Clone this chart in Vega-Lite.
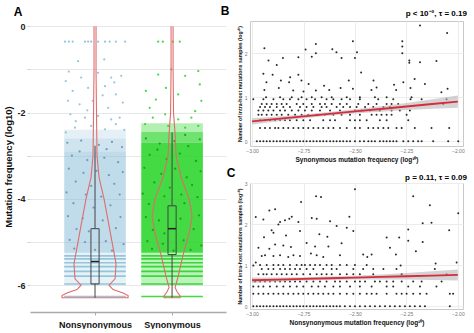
{
  "$schema": "https://vega.github.io/schema/vega-lite/v6.json",
  "padding": {"left": 3, "top": 4, "right": 2, "bottom": 0},
  "spacing": -6,
  "config": {
    "font": "Liberation Sans",
    "view": {"stroke": "#c8c8c8"},
    "axis": {"labelFont": "Liberation Sans", "titleFont": "Liberation Sans", "gridColor": "#ececec"}
  },
  "datasets": {
    "aBands": [
      {"g": "Nonsynonymous", "x1": 0.6, "x2": 1.4, "y1": -2.4, "y2": -2.6, "d": 0.22},
      {"g": "Nonsynonymous", "x1": 0.6, "x2": 1.4, "y1": -2.6, "y2": -2.9, "d": 0.4},
      {"g": "Nonsynonymous", "x1": 0.6, "x2": 1.4, "y1": -2.9, "y2": -5.25, "d": 0.52},
      {"g": "Nonsynonymous", "x1": 0.6, "x2": 1.4, "y1": -5.25, "y2": -6.0, "d": 0.2},
      {"g": "Synonymous", "x1": 1.6, "x2": 2.4, "y1": -2.25, "y2": -2.45, "d": 0.35},
      {"g": "Synonymous", "x1": 1.6, "x2": 2.4, "y1": -2.45, "y2": -2.7, "d": 0.65},
      {"g": "Synonymous", "x1": 1.6, "x2": 2.4, "y1": -2.7, "y2": -5.25, "d": 0.85},
      {"g": "Synonymous", "x1": 1.6, "x2": 2.4, "y1": -5.25, "y2": -6.0, "d": 0.3}
    ],
    "aStripes": [
      {"g": "Nonsynonymous", "x1": 0.6, "x2": 1.4, "y": -5.32},
      {"g": "Nonsynonymous", "x1": 0.6, "x2": 1.4, "y": -5.39},
      {"g": "Nonsynonymous", "x1": 0.6, "x2": 1.4, "y": -5.48},
      {"g": "Nonsynonymous", "x1": 0.6, "x2": 1.4, "y": -5.57},
      {"g": "Nonsynonymous", "x1": 0.6, "x2": 1.4, "y": -5.68},
      {"g": "Nonsynonymous", "x1": 0.6, "x2": 1.4, "y": -5.79},
      {"g": "Nonsynonymous", "x1": 0.6, "x2": 1.4, "y": -5.97},
      {"g": "Nonsynonymous", "x1": 0.6, "x2": 1.4, "y": -6.26},
      {"g": "Synonymous", "x1": 1.6, "x2": 2.4, "y": -5.32},
      {"g": "Synonymous", "x1": 1.6, "x2": 2.4, "y": -5.39},
      {"g": "Synonymous", "x1": 1.6, "x2": 2.4, "y": -5.48},
      {"g": "Synonymous", "x1": 1.6, "x2": 2.4, "y": -5.57},
      {"g": "Synonymous", "x1": 1.6, "x2": 2.4, "y": -5.68},
      {"g": "Synonymous", "x1": 1.6, "x2": 2.4, "y": -5.79},
      {"g": "Synonymous", "x1": 1.6, "x2": 2.4, "y": -5.97},
      {"g": "Synonymous", "x1": 1.6, "x2": 2.4, "y": -6.26}
    ],
    "aPts": [
      {"g": "Nonsynonymous", "x": 0.61, "y": -0.36}, {"g": "Nonsynonymous", "x": 0.66, "y": -0.36}, {"g": "Nonsynonymous", "x": 0.71, "y": -0.36},
      {"g": "Nonsynonymous", "x": 0.87, "y": -0.36}, {"g": "Nonsynonymous", "x": 0.91, "y": -0.36}, {"g": "Nonsynonymous", "x": 0.95, "y": -0.36},
      {"g": "Nonsynonymous", "x": 1.04, "y": -0.36}, {"g": "Nonsynonymous", "x": 1.13, "y": -0.36}, {"g": "Nonsynonymous", "x": 1.19, "y": -0.36},
      {"g": "Nonsynonymous", "x": 1.27, "y": -0.36}, {"g": "Nonsynonymous", "x": 1.39, "y": -0.36},
      {"g": "Nonsynonymous", "x": 1.12, "y": -0.77}, {"g": "Nonsynonymous", "x": 0.78, "y": -0.81}, {"g": "Nonsynonymous", "x": 0.62, "y": -1.27},
      {"g": "Nonsynonymous", "x": 0.82, "y": -1.19}, {"g": "Nonsynonymous", "x": 1.04, "y": -1.08}, {"g": "Nonsynonymous", "x": 1.21, "y": -1.19},
      {"g": "Nonsynonymous", "x": 1.34, "y": -1.15}, {"g": "Nonsynonymous", "x": 0.71, "y": -1.5}, {"g": "Nonsynonymous", "x": 0.91, "y": -1.43},
      {"g": "Nonsynonymous", "x": 1.13, "y": -1.39}, {"g": "Nonsynonymous", "x": 1.27, "y": -1.58}, {"g": "Nonsynonymous", "x": 0.65, "y": -1.73},
      {"g": "Nonsynonymous", "x": 0.8, "y": -1.81}, {"g": "Nonsynonymous", "x": 0.97, "y": -1.73}, {"g": "Nonsynonymous", "x": 1.17, "y": -1.89},
      {"g": "Nonsynonymous", "x": 1.36, "y": -1.77}, {"g": "Nonsynonymous", "x": 0.68, "y": -2.04}, {"g": "Nonsynonymous", "x": 0.87, "y": -2.12},
      {"g": "Nonsynonymous", "x": 1.04, "y": -2.08}, {"g": "Nonsynonymous", "x": 1.21, "y": -2.16}, {"g": "Nonsynonymous", "x": 1.32, "y": -2.12},
      {"g": "Nonsynonymous", "x": 0.74, "y": -2.35}, {"g": "Nonsynonymous", "x": 0.95, "y": -2.31}, {"g": "Nonsynonymous", "x": 1.13, "y": -2.39},
      {"g": "Nonsynonymous", "x": 1.27, "y": -2.27}, {"g": "Nonsynonymous", "x": 0.62, "y": -2.46}, {"g": "Nonsynonymous", "x": 1.25, "y": -1.3},
      {"g": "Nonsynonymous", "x": 0.75, "y": -2.2}, {"g": "Nonsynonymous", "x": 1.38, "y": -2.4}, {"g": "Nonsynonymous", "x": 0.9, "y": -1.95},
      {"g": "Nonsynonymous", "x": 1.1, "y": -1.6}, {"g": "Nonsynonymous", "x": 0.66, "y": -1.05},
      {"g": "Synonymous", "x": 1.82, "y": -0.36}, {"g": "Synonymous", "x": 1.88, "y": -0.36}, {"g": "Synonymous", "x": 2.01, "y": -0.36},
      {"g": "Synonymous", "x": 2.1, "y": -0.36}, {"g": "Synonymous", "x": 1.82, "y": -1.12}, {"g": "Synonymous", "x": 2.17, "y": -1.15},
      {"g": "Synonymous", "x": 2.34, "y": -1.04}, {"g": "Synonymous", "x": 2.38, "y": -1.73}, {"g": "Synonymous", "x": 1.66, "y": -1.5},
      {"g": "Synonymous", "x": 1.92, "y": -1.43}, {"g": "Synonymous", "x": 2.08, "y": -1.58}, {"g": "Synonymous", "x": 1.71, "y": -1.89},
      {"g": "Synonymous", "x": 2.3, "y": -1.97}, {"g": "Synonymous", "x": 1.91, "y": -2.04}, {"g": "Synonymous", "x": 1.75, "y": -2.12},
      {"g": "Synonymous", "x": 2.08, "y": -2.16}, {"g": "Synonymous", "x": 2.25, "y": -2.12}, {"g": "Synonymous", "x": 1.65, "y": -2.27},
      {"g": "Synonymous", "x": 1.95, "y": -2.31}, {"g": "Synonymous", "x": 2.17, "y": -2.35}, {"g": "Synonymous", "x": 2.34, "y": -2.31},
      {"g": "Synonymous", "x": 1.79, "y": -1.7}, {"g": "Synonymous", "x": 1.99, "y": -1.0}, {"g": "Synonymous", "x": 2.36, "y": -1.35},
      {"g": "N dense", "x": 0.64, "y": -2.7}, {"g": "N dense", "x": 0.82, "y": -2.65}, {"g": "N dense", "x": 1.05, "y": -2.75}, {"g": "N dense", "x": 1.22, "y": -2.68}, {"g": "N dense", "x": 1.35, "y": -2.8},
      {"g": "N dense", "x": 0.7, "y": -3.0}, {"g": "N dense", "x": 0.9, "y": -3.1}, {"g": "N dense", "x": 1.12, "y": -3.05}, {"g": "N dense", "x": 1.3, "y": -3.15}, {"g": "N dense", "x": 0.66, "y": -3.3},
      {"g": "N dense", "x": 0.85, "y": -3.4}, {"g": "N dense", "x": 1.02, "y": -3.35}, {"g": "N dense", "x": 1.18, "y": -3.45}, {"g": "N dense", "x": 1.36, "y": -3.38}, {"g": "N dense", "x": 0.75, "y": -3.6},
      {"g": "N dense", "x": 0.95, "y": -3.7}, {"g": "N dense", "x": 1.25, "y": -3.65}, {"g": "N dense", "x": 0.63, "y": -3.85}, {"g": "N dense", "x": 0.88, "y": -3.9}, {"g": "N dense", "x": 1.08, "y": -3.95},
      {"g": "N dense", "x": 1.32, "y": -3.9}, {"g": "N dense", "x": 0.72, "y": -4.1}, {"g": "N dense", "x": 0.98, "y": -4.2}, {"g": "N dense", "x": 1.2, "y": -4.15}, {"g": "N dense", "x": 0.65, "y": -4.4},
      {"g": "N dense", "x": 0.84, "y": -4.45}, {"g": "N dense", "x": 1.1, "y": -4.5}, {"g": "N dense", "x": 1.33, "y": -4.42}, {"g": "N dense", "x": 0.76, "y": -4.7}, {"g": "N dense", "x": 0.92, "y": -4.75},
      {"g": "N dense", "x": 1.27, "y": -4.68}, {"g": "N dense", "x": 0.67, "y": -4.95}, {"g": "N dense", "x": 0.87, "y": -5.0}, {"g": "N dense", "x": 1.14, "y": -4.98}, {"g": "N dense", "x": 1.37, "y": -5.05},
      {"g": "N dense", "x": 0.73, "y": -5.15}, {"g": "N dense", "x": 1.0, "y": -5.18}, {"g": "N dense", "x": 1.22, "y": -5.2}, {"g": "N dense", "x": 0.8, "y": -2.9}, {"g": "N dense", "x": 1.15, "y": -2.85},
      {"g": "S dense", "x": 1.66, "y": -2.6}, {"g": "S dense", "x": 1.84, "y": -2.72}, {"g": "S dense", "x": 2.03, "y": -2.66}, {"g": "S dense", "x": 2.21, "y": -2.78}, {"g": "S dense", "x": 2.36, "y": -2.62},
      {"g": "S dense", "x": 1.71, "y": -2.98}, {"g": "S dense", "x": 1.93, "y": -3.08}, {"g": "S dense", "x": 2.1, "y": -2.95}, {"g": "S dense", "x": 2.31, "y": -3.12}, {"g": "S dense", "x": 1.64, "y": -3.28},
      {"g": "S dense", "x": 1.86, "y": -3.42}, {"g": "S dense", "x": 2.04, "y": -3.3}, {"g": "S dense", "x": 2.19, "y": -3.5}, {"g": "S dense", "x": 2.37, "y": -3.36}, {"g": "S dense", "x": 1.77, "y": -3.62},
      {"g": "S dense", "x": 1.97, "y": -3.74}, {"g": "S dense", "x": 2.26, "y": -3.68}, {"g": "S dense", "x": 1.62, "y": -3.88}, {"g": "S dense", "x": 1.9, "y": -3.94}, {"g": "S dense", "x": 2.12, "y": -3.9},
      {"g": "S dense", "x": 2.33, "y": -3.96}, {"g": "S dense", "x": 1.7, "y": -4.12}, {"g": "S dense", "x": 2.16, "y": -4.1}, {"g": "S dense", "x": 1.66, "y": -4.42},
      {"g": "S dense", "x": 1.83, "y": -4.5}, {"g": "S dense", "x": 2.11, "y": -4.46}, {"g": "S dense", "x": 2.35, "y": -4.38}, {"g": "S dense", "x": 1.75, "y": -4.72}, {"g": "S dense", "x": 1.9, "y": -4.8},
      {"g": "S dense", "x": 2.28, "y": -4.7}, {"g": "S dense", "x": 1.68, "y": -4.98}, {"g": "S dense", "x": 1.88, "y": -5.04}, {"g": "S dense", "x": 2.15, "y": -4.96}, {"g": "S dense", "x": 2.38, "y": -5.08},
      {"g": "S dense", "x": 1.74, "y": -5.16}, {"g": "S dense", "x": 2.02, "y": -5.2}, {"g": "S dense", "x": 2.24, "y": -5.18}, {"g": "S dense", "x": 1.81, "y": -2.86}, {"g": "S dense", "x": 2.17, "y": -2.52}
    ],
    "aViolin": [
      {"g": "Nonsynonymous", "o": 1, "x": 1.013, "y": 0}, {"g": "Nonsynonymous", "o": 2, "x": 1.013, "y": -1},
      {"g": "Nonsynonymous", "o": 3, "x": 1.019, "y": -2}, {"g": "Nonsynonymous", "o": 4, "x": 1.026, "y": -3},
      {"g": "Nonsynonymous", "o": 5, "x": 1.052, "y": -3.5}, {"g": "Nonsynonymous", "o": 6, "x": 1.117, "y": -4},
      {"g": "Nonsynonymous", "o": 7, "x": 1.169, "y": -4.5}, {"g": "Nonsynonymous", "o": 8, "x": 1.221, "y": -5},
      {"g": "Nonsynonymous", "o": 9, "x": 1.273, "y": -5.5}, {"g": "Nonsynonymous", "o": 10, "x": 1.26, "y": -5.85},
      {"g": "Nonsynonymous", "o": 11, "x": 1.182, "y": -6.0}, {"g": "Nonsynonymous", "o": 12, "x": 1.234, "y": -6.1},
      {"g": "Nonsynonymous", "o": 13, "x": 1.364, "y": -6.18}, {"g": "Nonsynonymous", "o": 14, "x": 1.429, "y": -6.24},
      {"g": "Nonsynonymous", "o": 15, "x": 1.429, "y": -6.29}, {"g": "Nonsynonymous", "o": 16, "x": 0.571, "y": -6.29},
      {"g": "Nonsynonymous", "o": 17, "x": 0.571, "y": -6.24}, {"g": "Nonsynonymous", "o": 18, "x": 0.636, "y": -6.18},
      {"g": "Nonsynonymous", "o": 19, "x": 0.766, "y": -6.1}, {"g": "Nonsynonymous", "o": 20, "x": 0.818, "y": -6.0},
      {"g": "Nonsynonymous", "o": 21, "x": 0.74, "y": -5.85}, {"g": "Nonsynonymous", "o": 22, "x": 0.727, "y": -5.5},
      {"g": "Nonsynonymous", "o": 23, "x": 0.779, "y": -5}, {"g": "Nonsynonymous", "o": 24, "x": 0.831, "y": -4.5},
      {"g": "Nonsynonymous", "o": 25, "x": 0.883, "y": -4}, {"g": "Nonsynonymous", "o": 26, "x": 0.948, "y": -3.5},
      {"g": "Nonsynonymous", "o": 27, "x": 0.974, "y": -3}, {"g": "Nonsynonymous", "o": 28, "x": 0.981, "y": -2},
      {"g": "Nonsynonymous", "o": 29, "x": 0.987, "y": -1}, {"g": "Nonsynonymous", "o": 30, "x": 0.987, "y": 0},
      {"g": "Synonymous", "o": 1, "x": 2.013, "y": 0}, {"g": "Synonymous", "o": 2, "x": 2.013, "y": -1},
      {"g": "Synonymous", "o": 3, "x": 2.019, "y": -2}, {"g": "Synonymous", "o": 4, "x": 2.039, "y": -2.5},
      {"g": "Synonymous", "o": 5, "x": 2.052, "y": -3}, {"g": "Synonymous", "o": 6, "x": 2.117, "y": -3.5},
      {"g": "Synonymous", "o": 7, "x": 2.221, "y": -4}, {"g": "Synonymous", "o": 8, "x": 2.26, "y": -4.4},
      {"g": "Synonymous", "o": 9, "x": 2.221, "y": -4.8}, {"g": "Synonymous", "o": 10, "x": 2.143, "y": -5.3},
      {"g": "Synonymous", "o": 11, "x": 2.078, "y": -5.8}, {"g": "Synonymous", "o": 12, "x": 2.039, "y": -6.05},
      {"g": "Synonymous", "o": 13, "x": 2.065, "y": -6.15}, {"g": "Synonymous", "o": 14, "x": 2.104, "y": -6.25},
      {"g": "Synonymous", "o": 15, "x": 2.104, "y": -6.29}, {"g": "Synonymous", "o": 16, "x": 1.896, "y": -6.29},
      {"g": "Synonymous", "o": 17, "x": 1.896, "y": -6.25}, {"g": "Synonymous", "o": 18, "x": 1.935, "y": -6.15},
      {"g": "Synonymous", "o": 19, "x": 1.961, "y": -6.05}, {"g": "Synonymous", "o": 20, "x": 1.922, "y": -5.8},
      {"g": "Synonymous", "o": 21, "x": 1.857, "y": -5.3}, {"g": "Synonymous", "o": 22, "x": 1.779, "y": -4.8},
      {"g": "Synonymous", "o": 23, "x": 1.74, "y": -4.4}, {"g": "Synonymous", "o": 24, "x": 1.779, "y": -4},
      {"g": "Synonymous", "o": 25, "x": 1.883, "y": -3.5}, {"g": "Synonymous", "o": 26, "x": 1.948, "y": -3},
      {"g": "Synonymous", "o": 27, "x": 1.961, "y": -2.5}, {"g": "Synonymous", "o": 28, "x": 1.981, "y": -2},
      {"g": "Synonymous", "o": 29, "x": 1.987, "y": -1}, {"g": "Synonymous", "o": 30, "x": 1.987, "y": 0}
    ],
    "aBox": [
      {"g": "Nonsynonymous", "x1": 0.947, "x2": 1.053, "q1": -5.97, "q3": -4.69, "med": -5.45},
      {"g": "Synonymous", "x1": 1.947, "x2": 2.053, "q1": -5.29, "q3": -4.16, "med": -4.69}
    ],
    "aWhisk": [
      {"c": 1, "y1": -4.69, "y2": -2.77}, {"c": 1, "y1": -6.29, "y2": -5.97},
      {"c": 2, "y1": -4.16, "y2": -2.46}, {"c": 2, "y1": -6.29, "y2": -5.29}
    ],
    "bFit": [
      {"x": -3.0, "y": 0.45, "lo": 0.38, "hi": 0.52},
      {"x": -2.875, "y": 0.506, "lo": 0.451, "hi": 0.561},
      {"x": -2.75, "y": 0.5625, "lo": 0.518, "hi": 0.608},
      {"x": -2.625, "y": 0.619, "lo": 0.577, "hi": 0.661},
      {"x": -2.5, "y": 0.675, "lo": 0.627, "hi": 0.723},
      {"x": -2.375, "y": 0.731, "lo": 0.671, "hi": 0.791},
      {"x": -2.25, "y": 0.7875, "lo": 0.71, "hi": 0.866},
      {"x": -2.125, "y": 0.844, "lo": 0.734, "hi": 0.954},
      {"x": -2.0, "y": 0.9, "lo": 0.76, "hi": 1.04}
    ],
    "cFit": [
      {"x": -3.0, "y": 0.63, "lo": 0.565, "hi": 0.695},
      {"x": -2.875, "y": 0.646, "lo": 0.596, "hi": 0.696},
      {"x": -2.75, "y": 0.6625, "lo": 0.6225, "hi": 0.7025},
      {"x": -2.625, "y": 0.679, "lo": 0.639, "hi": 0.719},
      {"x": -2.5, "y": 0.695, "lo": 0.647, "hi": 0.743},
      {"x": -2.375, "y": 0.711, "lo": 0.651, "hi": 0.771},
      {"x": -2.25, "y": 0.7275, "lo": 0.6475, "hi": 0.8075},
      {"x": -2.125, "y": 0.744, "lo": 0.639, "hi": 0.849},
      {"x": -2.0, "y": 0.76, "lo": 0.625, "hi": 0.895}
    ],
    "bPts": [
      {"x": -2.977, "y": 0}, {"x": -2.961, "y": 0}, {"x": -2.945, "y": 0}, {"x": -2.929, "y": 0}, {"x": -2.913, "y": 0}, {"x": -2.896, "y": 0}, {"x": -2.88, "y": 0}, {"x": -2.864, "y": 0}, {"x": -2.848, "y": 0}, {"x": -2.832, "y": 0}, {"x": -2.816, "y": 0}, {"x": -2.799, "y": 0}, {"x": -2.783, "y": 0}, {"x": -2.767, "y": 0}, {"x": -2.751, "y": 0}, {"x": -2.735, "y": 0}, {"x": -2.718, "y": 0}, {"x": -2.702, "y": 0}, {"x": -2.686, "y": 0}, {"x": -2.67, "y": 0}, {"x": -2.654, "y": 0}, {"x": -2.638, "y": 0}, {"x": -2.621, "y": 0}, {"x": -2.605, "y": 0}, {"x": -2.589, "y": 0}, {"x": -2.573, "y": 0}, {"x": -2.557, "y": 0}, {"x": -2.54, "y": 0}, {"x": -2.524, "y": 0}, {"x": -2.5, "y": 0}, {"x": -2.476, "y": 0}, {"x": -2.456, "y": 0}, {"x": -2.435, "y": 0}, {"x": -2.419, "y": 0}, {"x": -2.403, "y": 0}, {"x": -2.379, "y": 0}, {"x": -2.362, "y": 0}, {"x": -2.346, "y": 0}, {"x": -2.33, "y": 0}, {"x": -2.314, "y": 0}, {"x": -2.298, "y": 0}, {"x": -2.265, "y": 0}, {"x": -2.241, "y": 0}, {"x": -2.217, "y": 0}, {"x": -2.193, "y": 0}, {"x": -2.176, "y": 0}, {"x": -2.12, "y": 0}, {"x": -2.047, "y": 0}, {"x": -1.998, "y": 0},
      {"x": -2.961, "y": 0.301}, {"x": -2.937, "y": 0.301}, {"x": -2.913, "y": 0.301}, {"x": -2.888, "y": 0.301}, {"x": -2.872, "y": 0.301}, {"x": -2.848, "y": 0.301}, {"x": -2.824, "y": 0.301}, {"x": -2.799, "y": 0.301}, {"x": -2.775, "y": 0.301}, {"x": -2.751, "y": 0.301}, {"x": -2.727, "y": 0.301}, {"x": -2.702, "y": 0.301}, {"x": -2.678, "y": 0.301}, {"x": -2.654, "y": 0.301}, {"x": -2.629, "y": 0.301}, {"x": -2.605, "y": 0.301}, {"x": -2.573, "y": 0.301}, {"x": -2.54, "y": 0.301}, {"x": -2.5, "y": 0.301}, {"x": -2.476, "y": 0.301}, {"x": -2.435, "y": 0.301}, {"x": -2.411, "y": 0.301}, {"x": -2.387, "y": 0.301}, {"x": -2.362, "y": 0.301}, {"x": -2.338, "y": 0.301}, {"x": -2.298, "y": 0.301}, {"x": -2.273, "y": 0.301}, {"x": -2.209, "y": 0.301}, {"x": -2.128, "y": 0.301}, {"x": -2.042, "y": 0.301},
      {"x": -2.961, "y": 0.477}, {"x": -2.937, "y": 0.477}, {"x": -2.913, "y": 0.477}, {"x": -2.888, "y": 0.477}, {"x": -2.864, "y": 0.477}, {"x": -2.84, "y": 0.477}, {"x": -2.816, "y": 0.477}, {"x": -2.783, "y": 0.477}, {"x": -2.751, "y": 0.477}, {"x": -2.718, "y": 0.477}, {"x": -2.654, "y": 0.477}, {"x": -2.621, "y": 0.477}, {"x": -2.597, "y": 0.477}, {"x": -2.524, "y": 0.477}, {"x": -2.5, "y": 0.477}, {"x": -2.476, "y": 0.477}, {"x": -2.443, "y": 0.477}, {"x": -2.379, "y": 0.477}, {"x": -2.346, "y": 0.477}, {"x": -2.241, "y": 0.477},
      {"x": -2.969, "y": 0.602}, {"x": -2.953, "y": 0.602}, {"x": -2.929, "y": 0.602}, {"x": -2.905, "y": 0.602}, {"x": -2.88, "y": 0.602}, {"x": -2.856, "y": 0.602}, {"x": -2.824, "y": 0.602}, {"x": -2.791, "y": 0.602}, {"x": -2.759, "y": 0.602}, {"x": -2.727, "y": 0.602}, {"x": -2.686, "y": 0.602}, {"x": -2.646, "y": 0.602}, {"x": -2.605, "y": 0.602}, {"x": -2.565, "y": 0.602}, {"x": -2.524, "y": 0.602}, {"x": -2.476, "y": 0.602}, {"x": -2.419, "y": 0.602}, {"x": -2.395, "y": 0.602}, {"x": -2.371, "y": 0.602}, {"x": -2.346, "y": 0.602}, {"x": -2.322, "y": 0.602}, {"x": -2.249, "y": 0.602},
      {"x": -2.969, "y": 0.699}, {"x": -2.945, "y": 0.699}, {"x": -2.921, "y": 0.699}, {"x": -2.896, "y": 0.699}, {"x": -2.864, "y": 0.699}, {"x": -2.84, "y": 0.699}, {"x": -2.807, "y": 0.699}, {"x": -2.775, "y": 0.699}, {"x": -2.743, "y": 0.699}, {"x": -2.71, "y": 0.699}, {"x": -2.67, "y": 0.699}, {"x": -2.621, "y": 0.699}, {"x": -2.573, "y": 0.699}, {"x": -2.5, "y": 0.699}, {"x": -2.468, "y": 0.699}, {"x": -2.427, "y": 0.699}, {"x": -2.379, "y": 0.699}, {"x": -2.322, "y": 0.699}, {"x": -2.282, "y": 0.699}, {"x": -2.233, "y": 0.699},
      {"x": -2.961, "y": 0.778}, {"x": -2.937, "y": 0.778}, {"x": -2.913, "y": 0.778}, {"x": -2.88, "y": 0.778}, {"x": -2.848, "y": 0.778}, {"x": -2.816, "y": 0.778}, {"x": -2.767, "y": 0.778}, {"x": -2.735, "y": 0.778}, {"x": -2.702, "y": 0.778}, {"x": -2.662, "y": 0.778}, {"x": -2.638, "y": 0.778}, {"x": -2.589, "y": 0.778}, {"x": -2.557, "y": 0.778}, {"x": -2.524, "y": 0.778}, {"x": -2.492, "y": 0.778}, {"x": -2.451, "y": 0.778}, {"x": -2.411, "y": 0.778}, {"x": -2.362, "y": 0.778}, {"x": -2.33, "y": 0.778},
      {"x": -2.953, "y": 0.845}, {"x": -2.929, "y": 0.845}, {"x": -2.905, "y": 0.845}, {"x": -2.88, "y": 0.845}, {"x": -2.856, "y": 0.845}, {"x": -2.832, "y": 0.845}, {"x": -2.783, "y": 0.845}, {"x": -2.751, "y": 0.845}, {"x": -2.71, "y": 0.845}, {"x": -2.67, "y": 0.845}, {"x": -2.646, "y": 0.845}, {"x": -2.613, "y": 0.845}, {"x": -2.573, "y": 0.845}, {"x": -2.54, "y": 0.845}, {"x": -2.484, "y": 0.845}, {"x": -2.435, "y": 0.845}, {"x": -2.395, "y": 0.845}, {"x": -2.346, "y": 0.845}, {"x": -2.322, "y": 0.845}, {"x": -2.29, "y": 0.845}, {"x": -2.071, "y": 0.845},
      {"x": -2.994, "y": 0.954}, {"x": -2.945, "y": 0.954}, {"x": -2.896, "y": 0.954}, {"x": -2.848, "y": 0.954}, {"x": -2.816, "y": 0.954}, {"x": -2.775, "y": 0.954}, {"x": -2.735, "y": 0.954}, {"x": -2.694, "y": 0.954}, {"x": -2.638, "y": 0.954}, {"x": -2.605, "y": 0.954}, {"x": -2.565, "y": 0.954}, {"x": -2.524, "y": 0.954}, {"x": -2.476, "y": 0.954}, {"x": -2.387, "y": 0.954}, {"x": -2.314, "y": 0.954}, {"x": -2.23, "y": 0.954}, {"x": -2.176, "y": 0.954}, {"x": -2.055, "y": 0.954},
      {"x": -2.932, "y": 1.0}, {"x": -2.864, "y": 1.0}, {"x": -2.807, "y": 1.0}, {"x": -2.759, "y": 1.0}, {"x": -2.71, "y": 1.0}, {"x": -2.662, "y": 1.0}, {"x": -2.613, "y": 1.0}, {"x": -2.54, "y": 1.0}, {"x": -2.476, "y": 1.0}, {"x": -2.403, "y": 1.0}, {"x": -2.346, "y": 1.0}, {"x": -2.225, "y": 1.0},
      {"x": -2.184, "y": 2.625}, {"x": -2.052, "y": 2.46}, {"x": -2.69, "y": 2.21}, {"x": -2.51, "y": 2.27}, {"x": -2.94, "y": 2.11}, {"x": -2.74, "y": 2.08}, {"x": -2.61, "y": 2.09}, {"x": -2.27, "y": 2.27}, {"x": -2.27, "y": 2.15}, {"x": -2.27, "y": 1.995}, {"x": -2.59, "y": 2.02}, {"x": -2.49, "y": 2.02}, {"x": -2.69, "y": 2.0}, {"x": -2.775, "y": 1.905}, {"x": -2.5, "y": 1.89}, {"x": -2.71, "y": 1.92}, {"x": -2.92, "y": 1.83}, {"x": -2.85, "y": 1.89}, {"x": -2.565, "y": 1.89}, {"x": -2.236, "y": 1.83}, {"x": -2.184, "y": 1.79}, {"x": -2.236, "y": 1.78}, {"x": -2.104, "y": 1.82}, {"x": -2.88, "y": 1.73}, {"x": -2.945, "y": 1.53}, {"x": -2.9, "y": 1.51}, {"x": -2.775, "y": 1.51}, {"x": -2.47, "y": 1.56}, {"x": -2.815, "y": 1.45}, {"x": -2.76, "y": 1.38}, {"x": -2.41, "y": 1.38}, {"x": -2.265, "y": 1.34}, {"x": -2.21, "y": 1.41}, {"x": -2.93, "y": 1.34}, {"x": -2.86, "y": 1.38}, {"x": -2.82, "y": 1.34}, {"x": -2.53, "y": 1.38}, {"x": -2.725, "y": 1.3}, {"x": -2.65, "y": 1.26}, {"x": -2.625, "y": 1.16}, {"x": -2.57, "y": 1.21}, {"x": -2.51, "y": 1.19}, {"x": -2.31, "y": 1.28}, {"x": -2.16, "y": 1.3}, {"x": -2.05, "y": 1.19}, {"x": -2.08, "y": 1.11}, {"x": -2.94, "y": 1.16}, {"x": -2.87, "y": 1.21}, {"x": -2.8, "y": 1.15}, {"x": -2.75, "y": 1.13}, {"x": -2.69, "y": 1.15}, {"x": -2.42, "y": 1.16}, {"x": -2.395, "y": 1.22}, {"x": -2.3, "y": 1.16}, {"x": -2.23, "y": 1.21}
    ],
    "cPts": [
      {"x": -2.994, "y": 0}, {"x": -2.977, "y": 0}, {"x": -2.961, "y": 0}, {"x": -2.945, "y": 0}, {"x": -2.929, "y": 0}, {"x": -2.913, "y": 0}, {"x": -2.896, "y": 0}, {"x": -2.88, "y": 0}, {"x": -2.864, "y": 0}, {"x": -2.848, "y": 0}, {"x": -2.832, "y": 0}, {"x": -2.816, "y": 0}, {"x": -2.799, "y": 0}, {"x": -2.783, "y": 0}, {"x": -2.767, "y": 0}, {"x": -2.751, "y": 0}, {"x": -2.735, "y": 0}, {"x": -2.718, "y": 0}, {"x": -2.702, "y": 0}, {"x": -2.686, "y": 0}, {"x": -2.67, "y": 0}, {"x": -2.654, "y": 0}, {"x": -2.638, "y": 0}, {"x": -2.621, "y": 0}, {"x": -2.605, "y": 0}, {"x": -2.589, "y": 0}, {"x": -2.573, "y": 0}, {"x": -2.549, "y": 0}, {"x": -2.524, "y": 0}, {"x": -2.5, "y": 0}, {"x": -2.476, "y": 0}, {"x": -2.451, "y": 0}, {"x": -2.427, "y": 0}, {"x": -2.403, "y": 0}, {"x": -2.379, "y": 0}, {"x": -2.354, "y": 0}, {"x": -2.33, "y": 0}, {"x": -2.306, "y": 0}, {"x": -2.282, "y": 0}, {"x": -2.257, "y": 0}, {"x": -2.233, "y": 0}, {"x": -2.209, "y": 0}, {"x": -2.184, "y": 0}, {"x": -2.16, "y": 0}, {"x": -2.039, "y": 0},
      {"x": -2.994, "y": 0.301}, {"x": -2.969, "y": 0.301}, {"x": -2.945, "y": 0.301}, {"x": -2.921, "y": 0.301}, {"x": -2.896, "y": 0.301}, {"x": -2.872, "y": 0.301}, {"x": -2.848, "y": 0.301}, {"x": -2.824, "y": 0.301}, {"x": -2.799, "y": 0.301}, {"x": -2.775, "y": 0.301}, {"x": -2.751, "y": 0.301}, {"x": -2.727, "y": 0.301}, {"x": -2.702, "y": 0.301}, {"x": -2.678, "y": 0.301}, {"x": -2.654, "y": 0.301}, {"x": -2.629, "y": 0.301}, {"x": -2.605, "y": 0.301}, {"x": -2.573, "y": 0.301}, {"x": -2.54, "y": 0.301}, {"x": -2.508, "y": 0.301}, {"x": -2.476, "y": 0.301}, {"x": -2.443, "y": 0.301}, {"x": -2.419, "y": 0.301}, {"x": -2.395, "y": 0.301}, {"x": -2.346, "y": 0.301}, {"x": -2.298, "y": 0.301}, {"x": -2.273, "y": 0.301}, {"x": -2.249, "y": 0.301}, {"x": -2.217, "y": 0.301}, {"x": -2.184, "y": 0.301}, {"x": -2.152, "y": 0.301}, {"x": -2.039, "y": 0.301}, {"x": -2.023, "y": 0.301},
      {"x": -2.994, "y": 0.477}, {"x": -2.969, "y": 0.477}, {"x": -2.945, "y": 0.477}, {"x": -2.913, "y": 0.477}, {"x": -2.88, "y": 0.477}, {"x": -2.848, "y": 0.477}, {"x": -2.816, "y": 0.477}, {"x": -2.783, "y": 0.477}, {"x": -2.751, "y": 0.477}, {"x": -2.71, "y": 0.477}, {"x": -2.678, "y": 0.477}, {"x": -2.646, "y": 0.477}, {"x": -2.605, "y": 0.477}, {"x": -2.573, "y": 0.477}, {"x": -2.524, "y": 0.477}, {"x": -2.476, "y": 0.477}, {"x": -2.419, "y": 0.477}, {"x": -2.346, "y": 0.477}, {"x": -2.314, "y": 0.477}, {"x": -2.241, "y": 0.477}, {"x": -2.184, "y": 0.477}, {"x": -2.104, "y": 0.477},
      {"x": -2.985, "y": 0.602}, {"x": -2.961, "y": 0.602}, {"x": -2.937, "y": 0.602}, {"x": -2.913, "y": 0.602}, {"x": -2.888, "y": 0.602}, {"x": -2.864, "y": 0.602}, {"x": -2.84, "y": 0.602}, {"x": -2.816, "y": 0.602}, {"x": -2.791, "y": 0.602}, {"x": -2.767, "y": 0.602}, {"x": -2.735, "y": 0.602}, {"x": -2.702, "y": 0.602}, {"x": -2.67, "y": 0.602}, {"x": -2.638, "y": 0.602}, {"x": -2.597, "y": 0.602}, {"x": -2.573, "y": 0.602}, {"x": -2.54, "y": 0.602}, {"x": -2.5, "y": 0.602}, {"x": -2.476, "y": 0.602}, {"x": -2.451, "y": 0.602}, {"x": -2.403, "y": 0.602}, {"x": -2.379, "y": 0.602}, {"x": -2.346, "y": 0.602}, {"x": -2.314, "y": 0.602}, {"x": -2.273, "y": 0.602}, {"x": -2.217, "y": 0.602}, {"x": -2.176, "y": 0.602}, {"x": -2.079, "y": 0.602},
      {"x": -2.969, "y": 0.778}, {"x": -2.945, "y": 0.778}, {"x": -2.929, "y": 0.778}, {"x": -2.905, "y": 0.778}, {"x": -2.88, "y": 0.778}, {"x": -2.856, "y": 0.778}, {"x": -2.832, "y": 0.778}, {"x": -2.807, "y": 0.778}, {"x": -2.783, "y": 0.778}, {"x": -2.751, "y": 0.778}, {"x": -2.718, "y": 0.778}, {"x": -2.686, "y": 0.778}, {"x": -2.662, "y": 0.778}, {"x": -2.638, "y": 0.778}, {"x": -2.613, "y": 0.778}, {"x": -2.573, "y": 0.778}, {"x": -2.54, "y": 0.778}, {"x": -2.508, "y": 0.778}, {"x": -2.476, "y": 0.778}, {"x": -2.411, "y": 0.778}, {"x": -2.273, "y": 0.778}, {"x": -2.055, "y": 0.778},
      {"x": -2.953, "y": 0.903}, {"x": -2.921, "y": 0.903}, {"x": -2.896, "y": 0.903}, {"x": -2.864, "y": 0.903}, {"x": -2.84, "y": 0.903}, {"x": -2.816, "y": 0.903}, {"x": -2.791, "y": 0.903}, {"x": -2.767, "y": 0.903}, {"x": -2.735, "y": 0.903}, {"x": -2.702, "y": 0.903}, {"x": -2.654, "y": 0.903}, {"x": -2.613, "y": 0.903}, {"x": -2.589, "y": 0.903}, {"x": -2.508, "y": 0.903}, {"x": -2.46, "y": 0.903}, {"x": -2.411, "y": 0.903}, {"x": -2.362, "y": 0.903}, {"x": -2.298, "y": 0.903}, {"x": -2.112, "y": 0.903},
      {"x": -2.961, "y": 1.0}, {"x": -2.929, "y": 1.0}, {"x": -2.896, "y": 1.0}, {"x": -2.872, "y": 1.0}, {"x": -2.848, "y": 1.0}, {"x": -2.816, "y": 1.0}, {"x": -2.783, "y": 1.0}, {"x": -2.759, "y": 1.0}, {"x": -2.743, "y": 1.0}, {"x": -2.718, "y": 1.0}, {"x": -2.694, "y": 1.0}, {"x": -2.67, "y": 1.0}, {"x": -2.638, "y": 1.0}, {"x": -2.613, "y": 1.0}, {"x": -2.573, "y": 1.0}, {"x": -2.54, "y": 1.0}, {"x": -2.5, "y": 1.0}, {"x": -2.443, "y": 1.0},
      {"x": -2.5, "y": 2.85}, {"x": -2.689, "y": 2.68}, {"x": -2.665, "y": 2.66}, {"x": -2.217, "y": 2.68}, {"x": -2.762, "y": 2.54}, {"x": -2.136, "y": 2.46}, {"x": -1.998, "y": 2.26}, {"x": -2.888, "y": 2.36}, {"x": -2.916, "y": 2.33}, {"x": -2.982, "y": 2.17}, {"x": -2.945, "y": 2.11}, {"x": -2.807, "y": 2.18}, {"x": -2.819, "y": 2.13}, {"x": -2.84, "y": 2.09}, {"x": -2.71, "y": 2.15}, {"x": -2.686, "y": 2.13}, {"x": -2.527, "y": 2.18}, {"x": -2.864, "y": 2.05}, {"x": -2.872, "y": 1.99}, {"x": -2.621, "y": 2.07}, {"x": -2.775, "y": 2.05}, {"x": -2.589, "y": 1.95}, {"x": -2.54, "y": 1.91}, {"x": -2.508, "y": 1.83}, {"x": -2.241, "y": 1.87}, {"x": -2.171, "y": 2.02}, {"x": -2.128, "y": 2.03}, {"x": -2.042, "y": 1.85}, {"x": -2.905, "y": 1.85}, {"x": -2.896, "y": 1.79}, {"x": -2.767, "y": 1.83}, {"x": -2.673, "y": 1.75}, {"x": -2.634, "y": 1.69}, {"x": -2.346, "y": 1.67}, {"x": -2.285, "y": 1.67}, {"x": -2.171, "y": 1.56}, {"x": -2.241, "y": 1.59}, {"x": -2.942, "y": 1.68}, {"x": -2.835, "y": 1.72}, {"x": -2.888, "y": 1.5}, {"x": -2.848, "y": 1.48}, {"x": -2.969, "y": 1.42}, {"x": -2.916, "y": 1.4}, {"x": -2.811, "y": 1.44}, {"x": -2.735, "y": 1.54}, {"x": -2.694, "y": 1.45}, {"x": -2.629, "y": 1.45}, {"x": -2.565, "y": 1.53}, {"x": -2.33, "y": 1.42}, {"x": -2.301, "y": 1.26}, {"x": -2.204, "y": 1.34}, {"x": -2.46, "y": 1.26}, {"x": -2.419, "y": 1.26}, {"x": -2.44, "y": 1.2}, {"x": -2.994, "y": 0.99}, {"x": -2.982, "y": 1.06}, {"x": -2.953, "y": 1.22}, {"x": -2.937, "y": 1.24}, {"x": -2.896, "y": 1.22}, {"x": -2.864, "y": 1.24}, {"x": -2.824, "y": 1.2}, {"x": -2.799, "y": 1.24}, {"x": -2.767, "y": 1.22}, {"x": -2.714, "y": 1.28}, {"x": -2.686, "y": 1.24}, {"x": -2.654, "y": 1.2}, {"x": -2.573, "y": 1.24}, {"x": -2.278, "y": 0.99}, {"x": -2.108, "y": 1.04}, {"x": -2.006, "y": 1.06}, {"x": -2.273, "y": 0.77}
    ]
  },
  "hconcat": [
    {
      "width": 196,
      "height": 291,
      "view": {"stroke": null},
      "layer": [
        {
          "data": {"name": "aBands"},
          "mark": {"type": "rect"},
          "encoding": {
            "x": {"field": "x1", "type": "quantitative", "scale": {"domain": [0.156, 2.7], "nice": false, "zero": false},
              "axis": {"values": [1, 2], "labelExpr": "datum.value == 1 ? 'Nonsynonymous' : 'Synonymous'", "title": null, "labelFontSize": 9, "labelFontWeight": "bold", "labelColor": "#111", "domainColor": "#aaaaaa", "domainWidth": 1.5, "tickColor": "#aaaaaa", "tickSize": 3, "grid": false, "labelPadding": 5}},
            "x2": {"field": "x2"},
            "y": {"field": "y1", "type": "quantitative", "scale": {"domain": [-6.62, 0.12], "nice": false, "zero": false},
              "axis": {"values": [-6, -5, -4, -3, -2, -1, 0], "labelExpr": "datum.value % 2 == 0 ? replace(datum.label, '−', '-') : ''", "title": "Mutation frequency (log10)", "titleFontSize": 9.5, "titleFontWeight": "bold", "titleColor": "#111", "titlePadding": 3, "labelFontSize": 9, "labelFontWeight": "bold", "labelColor": "#222", "domain": false, "tickColor": "#d0d0d0", "tickSize": 3, "labelPadding": 2, "grid": true, "gridColor": "#e8e8e8"}},
            "y2": {"field": "y2"},
            "color": {"field": "g", "type": "nominal", "scale": {"domain": ["Nonsynonymous", "Synonymous", "N dense", "S dense"], "range": ["#86bcd8", "#22d322", "#5c92b2", "#0c9c0c"]}, "legend": null},
            "opacity": {"field": "d", "type": "quantitative", "scale": null, "legend": null}
          }
        },
        {
          "data": {"name": "aStripes"},
          "mark": {"type": "rule", "strokeWidth": 1.6, "opacity": 0.85},
          "encoding": {
            "x": {"field": "x1", "type": "quantitative"},
            "x2": {"field": "x2"},
            "y": {"field": "y", "type": "quantitative"},
            "color": {"field": "g", "type": "nominal", "legend": null}
          }
        },
        {
          "data": {"name": "aPts"},
          "mark": {"type": "point", "filled": true, "size": 5, "opacity": 0.85},
          "encoding": {
            "x": {"field": "x", "type": "quantitative"},
            "y": {"field": "y", "type": "quantitative"},
            "color": {"field": "g", "type": "nominal", "legend": null}
          }
        },
        {
          "data": {"name": "aViolin"},
          "mark": {"type": "line", "color": "#e06b6b", "strokeWidth": 1.1},
          "encoding": {
            "x": {"field": "x", "type": "quantitative"},
            "y": {"field": "y", "type": "quantitative"},
            "detail": {"field": "g"},
            "order": {"field": "o", "type": "quantitative"}
          }
        },
        {
          "data": {"name": "aWhisk"},
          "mark": {"type": "rule", "color": "#444444", "strokeWidth": 1},
          "encoding": {
            "x": {"field": "c", "type": "quantitative"},
            "y": {"field": "y1", "type": "quantitative"},
            "y2": {"field": "y2"}
          }
        },
        {
          "data": {"name": "aBox"},
          "mark": {"type": "rect", "fill": null, "fillOpacity": 0, "stroke": "#444444", "strokeWidth": 1},
          "encoding": {
            "x": {"field": "x1", "type": "quantitative"},
            "x2": {"field": "x2"},
            "y": {"field": "q1", "type": "quantitative"},
            "y2": {"field": "q3"}
          }
        },
        {
          "data": {"name": "aBox"},
          "mark": {"type": "rule", "color": "#222222", "strokeWidth": 1.5},
          "encoding": {
            "x": {"field": "x1", "type": "quantitative"},
            "x2": {"field": "x2"},
            "y": {"field": "med", "type": "quantitative"}
          }
        },
        {
          "mark": {"type": "rule", "color": "#000000", "strokeWidth": 1.8, "strokeDash": [8, 4]},
          "encoding": {"y": {"datum": -2.96}}
        },
        {
          "data": {"values": [{"t": "A"}]},
          "mark": {"type": "text", "align": "center", "baseline": "middle", "fontSize": 12, "fontWeight": "bold", "color": "#000"},
          "encoding": {"x": {"datum": 0.0}, "y": {"datum": 0.328}, "text": {"field": "t"}}
        }
      ]
    },
    {
      "vconcat": [
        {
          "width": 213,
          "height": 125,
          "layer": [
            {
              "data": {"name": "bPts"},
              "mark": {"type": "point", "filled": true, "size": 4, "color": "#111111", "opacity": 0.9},
              "encoding": {
                "x": {"field": "x", "type": "quantitative", "scale": {"domain": [-3.01, -1.975], "nice": false, "zero": false},
                  "axis": {"values": [-3, -2.75, -2.5, -2.25, -2], "format": ".2f", "title": "Synonymous  mutation  frequency (log¹⁰)", "titleFontSize": 6.5, "titleFontWeight": "bold", "titleColor": "#111", "titlePadding": 3, "labelFontSize": 5, "labelColor": "#777", "ticks": false, "domain": false, "labelPadding": 2, "grid": true}},
                "y": {"field": "y", "type": "quantitative", "scale": {"domain": [-0.11, 2.73], "nice": false, "zero": false},
                  "axis": {"values": [0, 1, 2], "title": "Number of intra-host mutations samples (log¹⁰)", "titleFontSize": 5.2, "titleFontWeight": "bold", "titleColor": "#111", "titlePadding": 2, "labelFontSize": 5, "labelColor": "#777", "ticks": false, "domain": false, "labelPadding": 3, "grid": true}}
              }
            },
            {
              "data": {"name": "bFit"},
              "mark": {"type": "area", "color": "#b5b5b5", "opacity": 0.6},
              "encoding": {
                "x": {"field": "x", "type": "quantitative"},
                "y": {"field": "lo", "type": "quantitative"},
                "y2": {"field": "hi"}
              }
            },
            {
              "data": {"name": "bFit"},
              "mark": {"type": "line", "color": "#d62c3c", "strokeWidth": 1.8},
              "encoding": {
                "x": {"field": "x", "type": "quantitative"},
                "y": {"field": "y", "type": "quantitative"}
              }
            },
            {
              "data": {"values": [{"t": "B"}]},
              "mark": {"type": "text", "align": "center", "baseline": "middle", "fontSize": 12, "fontWeight": "bold", "color": "#000"},
              "encoding": {"x": {"datum": -3.131}, "y": {"datum": 2.957}, "text": {"field": "t"}}
            },
            {
              "data": {"values": [{"t": "p < 10⁻², τ = 0.19"}]},
              "mark": {"type": "text", "align": "right", "baseline": "bottom", "fontSize": 8, "fontWeight": "bold", "color": "#000"},
              "encoding": {"x": {"datum": -1.956}, "y": {"datum": 2.798}, "text": {"field": "t"}}
            }
          ]
        },
        {
          "width": 213,
          "height": 126,
          "layer": [
            {
              "data": {"name": "cPts"},
              "mark": {"type": "point", "filled": true, "size": 4, "color": "#111111", "opacity": 0.9},
              "encoding": {
                "x": {"field": "x", "type": "quantitative", "scale": {"domain": [-3.01, -1.975], "nice": false, "zero": false},
                  "axis": {"values": [-3, -2.75, -2.5, -2.25, -2], "format": ".2f", "title": "Nonsynonymous  mutation  frequency (log¹⁰)", "titleFontSize": 6.5, "titleFontWeight": "bold", "titleColor": "#111", "titlePadding": 3, "labelFontSize": 5, "labelColor": "#777", "ticks": false, "domain": false, "labelPadding": 2, "grid": true}},
                "y": {"field": "y", "type": "quantitative", "scale": {"domain": [-0.07, 3.0], "nice": false, "zero": false},
                  "axis": {"values": [0, 1, 2, 3], "title": "Number of intra-host mutations samples (log¹⁰)", "titleFontSize": 5.2, "titleFontWeight": "bold", "titleColor": "#111", "titlePadding": 2, "labelFontSize": 5, "labelColor": "#777", "ticks": false, "domain": false, "labelPadding": 3, "grid": true}}
              }
            },
            {
              "data": {"name": "cFit"},
              "mark": {"type": "area", "color": "#b5b5b5", "opacity": 0.6},
              "encoding": {
                "x": {"field": "x", "type": "quantitative"},
                "y": {"field": "lo", "type": "quantitative"},
                "y2": {"field": "hi"}
              }
            },
            {
              "data": {"name": "cFit"},
              "mark": {"type": "line", "color": "#d62c3c", "strokeWidth": 1.8},
              "encoding": {
                "x": {"field": "x", "type": "quantitative"},
                "y": {"field": "y", "type": "quantitative"}
              }
            },
            {
              "data": {"values": [{"t": "C"}]},
              "mark": {"type": "text", "align": "center", "baseline": "middle", "fontSize": 12, "fontWeight": "bold", "color": "#000"},
              "encoding": {"x": {"datum": -3.102}, "y": {"datum": 3.24}, "text": {"field": "t"}}
            },
            {
              "data": {"values": [{"t": "p = 0.11, τ = 0.09"}]},
              "mark": {"type": "text", "align": "right", "baseline": "bottom", "fontSize": 8, "fontWeight": "bold", "color": "#000"},
              "encoding": {"x": {"datum": -1.956}, "y": {"datum": 3.025}, "text": {"field": "t"}}
            }
          ]
        }
      ],
      "spacing": 3
    }
  ]
}
